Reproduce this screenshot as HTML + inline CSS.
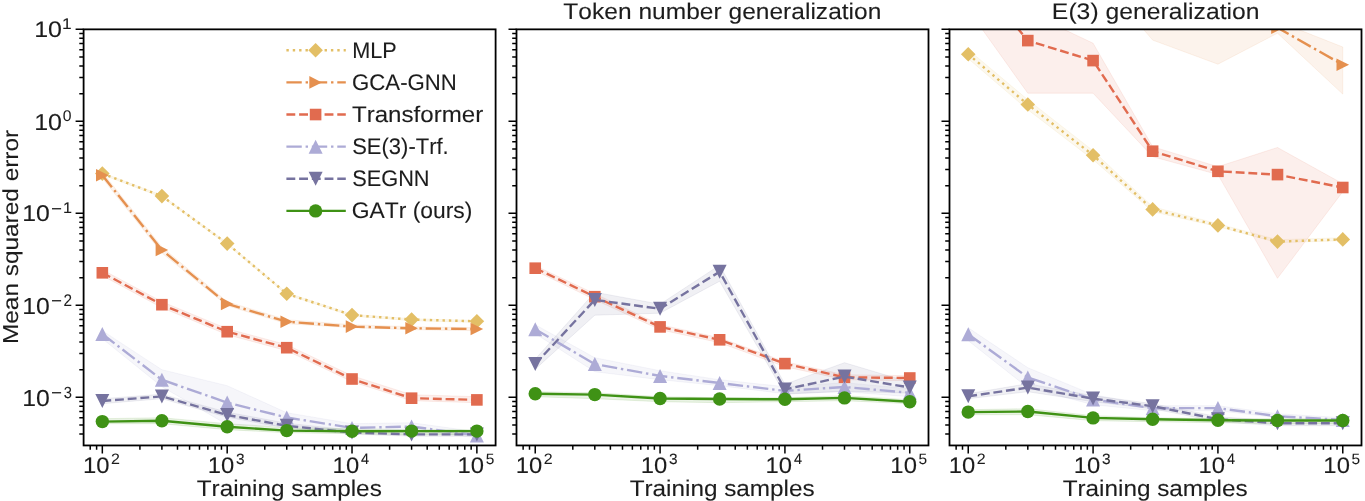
<!DOCTYPE html>
<html><head><meta charset="utf-8"><style>html,body{margin:0;padding:0;background:#fff;}svg{display:block;will-change:transform;}text{font-kerning:none;text-rendering:geometricPrecision;stroke:#1c1c1c;stroke-width:0.4px;vector-effect:non-scaling-stroke;}</style></head>
<body>
<svg width="1365" height="501" viewBox="0 0 1365 501" style="font-family:'Liberation Sans',sans-serif" fill="#1c1c1c">
<rect width="1365" height="501" fill="#fff"/>
<defs>
<clipPath id="c0"><rect x="83.60" y="29.35" width="412.00" height="416.10"/></clipPath>
<clipPath id="c1"><rect x="516.50" y="29.35" width="412.00" height="416.10"/></clipPath>
<clipPath id="c2"><rect x="949.50" y="29.35" width="412.00" height="416.10"/></clipPath>
</defs>
<g clip-path="url(#c0)">
<path d="M102.33,172.70L161.90,195.20L227.18,242.70L286.74,292.70L352.02,314.20L411.59,318.70L476.87,320.40L476.87,322.40L411.59,320.70L352.02,316.20L286.74,294.70L227.18,244.70L161.90,197.20L102.33,174.70Z" fill="#E3BF66" fill-opacity="0.11" stroke="#E3BF66" stroke-opacity="0.11" stroke-width="1"/>
<path d="M102.33,172.20L161.90,247.00L227.18,301.70L286.74,319.70L352.02,324.70L411.59,326.70L476.87,327.70L476.87,330.70L411.59,329.70L352.02,327.70L286.74,323.70L227.18,305.70L161.90,253.00L102.33,178.20Z" fill="#E5904F" fill-opacity="0.11" stroke="#E5904F" stroke-opacity="0.11" stroke-width="1"/>
<path d="M102.33,269.70L161.90,301.70L227.18,328.70L286.74,344.70L352.02,375.70L411.59,394.70L476.87,396.70L476.87,402.70L411.59,400.70L352.02,381.70L286.74,350.70L227.18,334.70L161.90,307.70L102.33,275.70Z" fill="#E16B4F" fill-opacity="0.11" stroke="#E16B4F" stroke-opacity="0.11" stroke-width="1"/>
<path d="M102.33,330.70L161.90,369.70L227.18,385.70L286.74,412.70L352.02,423.70L411.59,422.70L476.87,431.70L476.87,437.70L411.59,429.70L352.02,430.70L286.74,425.70L227.18,424.70L161.90,386.70L102.33,338.70Z" fill="#ADABD6" fill-opacity="0.11" stroke="#ADABD6" stroke-opacity="0.11" stroke-width="1"/>
<path d="M102.33,398.70L161.90,394.20L227.18,412.20L286.74,423.20L352.02,430.20L411.59,432.20L476.87,432.20L476.87,436.20L411.59,436.20L352.02,434.20L286.74,428.20L227.18,417.20L161.90,398.70L102.33,403.70Z" fill="#76739F" fill-opacity="0.11" stroke="#76739F" stroke-opacity="0.11" stroke-width="1"/>
<path d="M102.33,418.70L161.90,417.70L227.18,423.70L286.74,427.70L352.02,428.70L411.59,429.70L476.87,429.70L476.87,434.70L411.59,434.70L352.02,433.70L286.74,432.70L227.18,429.70L161.90,423.70L102.33,423.70Z" fill="#3F9215" fill-opacity="0.11" stroke="#3F9215" stroke-opacity="0.11" stroke-width="1"/>
<path d="M102.33,173.60L161.90,196.10L227.18,243.60L286.74,293.70L352.02,315.10L411.59,319.60L476.87,321.30" fill="none" stroke="#E3BF66" stroke-width="2.4" stroke-linejoin="round" stroke-dasharray="2.40,3.96"/>
<path d="M102.33,166.30L109.63,173.60L102.33,180.90L95.03,173.60Z" fill="#E3BF66"/>
<path d="M161.90,188.80L169.20,196.10L161.90,203.40L154.60,196.10Z" fill="#E3BF66"/>
<path d="M227.18,236.30L234.48,243.60L227.18,250.90L219.88,243.60Z" fill="#E3BF66"/>
<path d="M286.74,286.40L294.04,293.70L286.74,301.00L279.44,293.70Z" fill="#E3BF66"/>
<path d="M352.02,307.80L359.32,315.10L352.02,322.40L344.72,315.10Z" fill="#E3BF66"/>
<path d="M411.59,312.30L418.89,319.60L411.59,326.90L404.29,319.60Z" fill="#E3BF66"/>
<path d="M476.87,314.00L484.17,321.30L476.87,328.60L469.57,321.30Z" fill="#E3BF66"/>
<path d="M102.33,175.20L161.90,250.00L227.18,303.90L286.74,321.70L352.02,326.60L411.59,328.30L476.87,329.00" fill="none" stroke="#E5904F" stroke-width="2.4" stroke-linejoin="round" stroke-dasharray="15.36,3.84,2.40,3.84"/>
<path d="M108.63,175.20L96.03,168.90L96.03,181.50Z" fill="#E5904F"/>
<path d="M168.20,250.00L155.60,243.70L155.60,256.30Z" fill="#E5904F"/>
<path d="M233.48,303.90L220.88,297.60L220.88,310.20Z" fill="#E5904F"/>
<path d="M293.04,321.70L280.44,315.40L280.44,328.00Z" fill="#E5904F"/>
<path d="M358.32,326.60L345.72,320.30L345.72,332.90Z" fill="#E5904F"/>
<path d="M417.89,328.30L405.29,322.00L405.29,334.60Z" fill="#E5904F"/>
<path d="M483.17,329.00L470.57,322.70L470.57,335.30Z" fill="#E5904F"/>
<path d="M102.33,272.80L161.90,304.70L227.18,331.70L286.74,347.70L352.02,379.00L411.59,398.20L476.87,399.90" fill="none" stroke="#E16B4F" stroke-width="2.4" stroke-linejoin="round" stroke-dasharray="8.88,3.84"/>
<rect x="96.53" y="267.00" width="11.60" height="11.60" fill="#E16B4F"/>
<rect x="156.10" y="298.90" width="11.60" height="11.60" fill="#E16B4F"/>
<rect x="221.38" y="325.90" width="11.60" height="11.60" fill="#E16B4F"/>
<rect x="280.94" y="341.90" width="11.60" height="11.60" fill="#E16B4F"/>
<rect x="346.22" y="373.20" width="11.60" height="11.60" fill="#E16B4F"/>
<rect x="405.79" y="392.40" width="11.60" height="11.60" fill="#E16B4F"/>
<rect x="471.07" y="394.10" width="11.60" height="11.60" fill="#E16B4F"/>
<path d="M102.33,334.00L161.90,379.80L227.18,402.60L286.74,417.50L352.02,427.90L411.59,426.50L476.87,435.40" fill="none" stroke="#ADABD6" stroke-width="2.4" stroke-linejoin="round" stroke-dasharray="15.36,3.84,2.40,3.84"/>
<path d="M102.33,327.00L109.33,341.00L95.33,341.00Z" fill="#ADABD6"/>
<path d="M161.90,372.80L168.90,386.80L154.90,386.80Z" fill="#ADABD6"/>
<path d="M227.18,395.60L234.18,409.60L220.18,409.60Z" fill="#ADABD6"/>
<path d="M286.74,410.50L293.74,424.50L279.74,424.50Z" fill="#ADABD6"/>
<path d="M352.02,420.90L359.02,434.90L345.02,434.90Z" fill="#ADABD6"/>
<path d="M411.59,419.50L418.59,433.50L404.59,433.50Z" fill="#ADABD6"/>
<path d="M476.87,428.40L483.87,442.40L469.87,442.40Z" fill="#ADABD6"/>
<path d="M102.33,401.00L161.90,396.40L227.18,415.00L286.74,425.80L352.02,432.60L411.59,434.40L476.87,434.40" fill="none" stroke="#76739F" stroke-width="2.4" stroke-linejoin="round" stroke-dasharray="8.88,3.84"/>
<path d="M102.33,408.00L109.33,394.00L95.33,394.00Z" fill="#76739F"/>
<path d="M161.90,403.40L168.90,389.40L154.90,389.40Z" fill="#76739F"/>
<path d="M227.18,422.00L234.18,408.00L220.18,408.00Z" fill="#76739F"/>
<path d="M286.74,432.80L293.74,418.80L279.74,418.80Z" fill="#76739F"/>
<path d="M352.02,439.60L359.02,425.60L345.02,425.60Z" fill="#76739F"/>
<path d="M411.59,441.40L418.59,427.40L404.59,427.40Z" fill="#76739F"/>
<path d="M476.87,441.40L483.87,427.40L469.87,427.40Z" fill="#76739F"/>
<path d="M102.33,421.60L161.90,420.70L227.18,426.80L286.74,430.60L352.02,431.20L411.59,431.10L476.87,431.10" fill="none" stroke="#3F9215" stroke-width="2.4" stroke-linejoin="round"/>
<circle cx="102.33" cy="421.60" r="6.7" fill="#3F9215"/>
<circle cx="161.90" cy="420.70" r="6.7" fill="#3F9215"/>
<circle cx="227.18" cy="426.80" r="6.7" fill="#3F9215"/>
<circle cx="286.74" cy="430.60" r="6.7" fill="#3F9215"/>
<circle cx="352.02" cy="431.20" r="6.7" fill="#3F9215"/>
<circle cx="411.59" cy="431.10" r="6.7" fill="#3F9215"/>
<circle cx="476.87" cy="431.10" r="6.7" fill="#3F9215"/>
</g>
<rect x="83.60" y="29.35" width="412.00" height="416.10" fill="none" stroke="#000" stroke-width="1.8"/>
<path d="M90.23,445.45v4.3 M96.61,445.45v4.3 M102.33,445.45v8.0 M139.91,445.45v4.3 M161.90,445.45v4.3 M177.49,445.45v4.3 M189.59,445.45v4.3 M199.48,445.45v4.3 M207.84,445.45v4.3 M215.08,445.45v4.3 M221.46,445.45v4.3 M227.18,445.45v8.0 M264.76,445.45v4.3 M286.74,445.45v4.3 M302.34,445.45v4.3 M314.44,445.45v4.3 M324.33,445.45v4.3 M332.68,445.45v4.3 M339.93,445.45v4.3 M346.31,445.45v4.3 M352.02,445.45v8.0 M389.61,445.45v4.3 M411.59,445.45v4.3 M427.19,445.45v4.3 M439.29,445.45v4.3 M449.18,445.45v4.3 M457.53,445.45v4.3 M464.77,445.45v4.3 M471.16,445.45v4.3 M476.87,445.45v8.0 M83.60,433.96h-4.3 M83.60,425.04h-4.3 M83.60,417.76h-4.3 M83.60,411.60h-4.3 M83.60,406.27h-4.3 M83.60,401.56h-4.3 M83.60,397.35h-8.0 M83.60,369.66h-4.3 M83.60,353.45h-4.3 M83.60,341.96h-4.3 M83.60,333.04h-4.3 M83.60,325.76h-4.3 M83.60,319.60h-4.3 M83.60,314.27h-4.3 M83.60,309.56h-4.3 M83.60,305.35h-8.0 M83.60,277.66h-4.3 M83.60,261.45h-4.3 M83.60,249.96h-4.3 M83.60,241.04h-4.3 M83.60,233.76h-4.3 M83.60,227.60h-4.3 M83.60,222.27h-4.3 M83.60,217.56h-4.3 M83.60,213.35h-8.0 M83.60,185.66h-4.3 M83.60,169.45h-4.3 M83.60,157.96h-4.3 M83.60,149.04h-4.3 M83.60,141.76h-4.3 M83.60,135.60h-4.3 M83.60,130.27h-4.3 M83.60,125.56h-4.3 M83.60,121.35h-8.0 M83.60,93.66h-4.3 M83.60,77.45h-4.3 M83.60,65.96h-4.3 M83.60,57.04h-4.3 M83.60,49.76h-4.3 M83.60,43.60h-4.3 M83.60,38.27h-4.3 M83.60,33.56h-4.3 M83.60,29.35h-8.0" stroke="#000" stroke-width="1.5" fill="none"/>
<text transform="translate(82.909,472.682) scale(0.23870,0.22316)" font-size="100.0">10</text>
<text transform="translate(110.921,464.400) scale(0.16024,0.15038)" font-size="100.0">2</text>
<text transform="translate(207.758,472.682) scale(0.23870,0.22316)" font-size="100.0">10</text>
<text transform="translate(235.989,464.255) scale(0.15397,0.14830)" font-size="100.0">3</text>
<text transform="translate(332.606,472.682) scale(0.23870,0.22316)" font-size="100.0">10</text>
<text transform="translate(361.092,464.400) scale(0.14487,0.15262)" font-size="100.0">4</text>
<text transform="translate(457.455,472.682) scale(0.23870,0.22316)" font-size="100.0">10</text>
<text transform="translate(485.656,464.253) scale(0.15397,0.15048)" font-size="100.0">5</text>
<text transform="translate(196.754,495.800) scale(0.24300,0.22602)" font-size="100.0">Training samples</text>
<g clip-path="url(#c1)">
<path d="M535.23,265.70L594.80,293.70L660.08,324.70L719.64,337.70L784.92,361.70L844.49,374.70L909.77,375.70L909.77,380.70L844.49,379.70L784.92,366.70L719.64,342.70L660.08,329.70L594.80,299.70L535.23,270.70Z" fill="#E16B4F" fill-opacity="0.11" stroke="#E16B4F" stroke-opacity="0.11" stroke-width="1"/>
<path d="M535.23,324.70L594.80,357.70L660.08,370.70L719.64,379.70L784.92,386.70L844.49,382.70L909.77,388.70L909.77,396.70L844.49,391.70L784.92,393.70L719.64,385.70L660.08,379.70L594.80,371.70L535.23,333.70Z" fill="#ADABD6" fill-opacity="0.11" stroke="#ADABD6" stroke-opacity="0.11" stroke-width="1"/>
<path d="M535.23,359.20L594.80,292.20L660.08,304.20L719.64,265.20L784.92,384.20L844.49,362.70L909.77,382.20L909.77,393.20L844.49,391.20L784.92,394.20L719.64,281.20L660.08,313.20L594.80,315.20L535.23,369.20Z" fill="#76739F" fill-opacity="0.11" stroke="#76739F" stroke-opacity="0.11" stroke-width="1"/>
<path d="M535.23,391.70L594.80,392.70L660.08,396.70L719.64,397.70L784.92,397.70L844.49,395.70L909.77,399.70L909.77,403.70L844.49,400.70L784.92,401.70L719.64,402.70L660.08,401.70L594.80,398.70L535.23,396.70Z" fill="#3F9215" fill-opacity="0.11" stroke="#3F9215" stroke-opacity="0.11" stroke-width="1"/>
<path d="M535.23,268.20L594.80,296.70L660.08,326.90L719.64,339.80L784.92,363.60L844.49,377.30L909.77,378.00" fill="none" stroke="#E16B4F" stroke-width="2.4" stroke-linejoin="round" stroke-dasharray="8.88,3.84"/>
<rect x="529.43" y="262.40" width="11.60" height="11.60" fill="#E16B4F"/>
<rect x="589.00" y="290.90" width="11.60" height="11.60" fill="#E16B4F"/>
<rect x="654.28" y="321.10" width="11.60" height="11.60" fill="#E16B4F"/>
<rect x="713.84" y="334.00" width="11.60" height="11.60" fill="#E16B4F"/>
<rect x="779.12" y="357.80" width="11.60" height="11.60" fill="#E16B4F"/>
<rect x="838.69" y="371.50" width="11.60" height="11.60" fill="#E16B4F"/>
<rect x="903.97" y="372.20" width="11.60" height="11.60" fill="#E16B4F"/>
<path d="M535.23,329.30L594.80,364.10L660.08,375.90L719.64,383.00L784.92,390.90L844.49,387.00L909.77,392.80" fill="none" stroke="#ADABD6" stroke-width="2.4" stroke-linejoin="round" stroke-dasharray="15.36,3.84,2.40,3.84"/>
<path d="M535.23,322.30L542.23,336.30L528.23,336.30Z" fill="#ADABD6"/>
<path d="M594.80,357.10L601.80,371.10L587.80,371.10Z" fill="#ADABD6"/>
<path d="M660.08,368.90L667.08,382.90L653.08,382.90Z" fill="#ADABD6"/>
<path d="M719.64,376.00L726.64,390.00L712.64,390.00Z" fill="#ADABD6"/>
<path d="M784.92,383.90L791.92,397.90L777.92,397.90Z" fill="#ADABD6"/>
<path d="M844.49,380.00L851.49,394.00L837.49,394.00Z" fill="#ADABD6"/>
<path d="M909.77,385.80L916.77,399.80L902.77,399.80Z" fill="#ADABD6"/>
<path d="M535.23,364.10L594.80,299.90L660.08,308.80L719.64,271.70L784.92,389.40L844.49,376.60L909.77,387.50" fill="none" stroke="#76739F" stroke-width="2.4" stroke-linejoin="round" stroke-dasharray="8.88,3.84"/>
<path d="M535.23,371.10L542.23,357.10L528.23,357.10Z" fill="#76739F"/>
<path d="M594.80,306.90L601.80,292.90L587.80,292.90Z" fill="#76739F"/>
<path d="M660.08,315.80L667.08,301.80L653.08,301.80Z" fill="#76739F"/>
<path d="M719.64,278.70L726.64,264.70L712.64,264.70Z" fill="#76739F"/>
<path d="M784.92,396.40L791.92,382.40L777.92,382.40Z" fill="#76739F"/>
<path d="M844.49,383.60L851.49,369.60L837.49,369.60Z" fill="#76739F"/>
<path d="M909.77,394.50L916.77,380.50L902.77,380.50Z" fill="#76739F"/>
<path d="M535.23,393.70L594.80,394.60L660.08,398.50L719.64,399.00L784.92,399.30L844.49,397.90L909.77,401.80" fill="none" stroke="#3F9215" stroke-width="2.4" stroke-linejoin="round"/>
<circle cx="535.23" cy="393.70" r="6.7" fill="#3F9215"/>
<circle cx="594.80" cy="394.60" r="6.7" fill="#3F9215"/>
<circle cx="660.08" cy="398.50" r="6.7" fill="#3F9215"/>
<circle cx="719.64" cy="399.00" r="6.7" fill="#3F9215"/>
<circle cx="784.92" cy="399.30" r="6.7" fill="#3F9215"/>
<circle cx="844.49" cy="397.90" r="6.7" fill="#3F9215"/>
<circle cx="909.77" cy="401.80" r="6.7" fill="#3F9215"/>
</g>
<rect x="516.50" y="29.35" width="412.00" height="416.10" fill="none" stroke="#000" stroke-width="1.8"/>
<path d="M523.13,445.45v4.3 M529.51,445.45v4.3 M535.23,445.45v8.0 M572.81,445.45v4.3 M594.80,445.45v4.3 M610.39,445.45v4.3 M622.49,445.45v4.3 M632.38,445.45v4.3 M640.74,445.45v4.3 M647.98,445.45v4.3 M654.36,445.45v4.3 M660.08,445.45v8.0 M697.66,445.45v4.3 M719.64,445.45v4.3 M735.24,445.45v4.3 M747.34,445.45v4.3 M757.23,445.45v4.3 M765.58,445.45v4.3 M772.83,445.45v4.3 M779.21,445.45v4.3 M784.92,445.45v8.0 M822.51,445.45v4.3 M844.49,445.45v4.3 M860.09,445.45v4.3 M872.19,445.45v4.3 M882.08,445.45v4.3 M890.43,445.45v4.3 M897.67,445.45v4.3 M904.06,445.45v4.3 M909.77,445.45v8.0 M516.50,433.96h-4.3 M516.50,425.04h-4.3 M516.50,417.76h-4.3 M516.50,411.60h-4.3 M516.50,406.27h-4.3 M516.50,401.56h-4.3 M516.50,397.35h-8.0 M516.50,369.66h-4.3 M516.50,353.45h-4.3 M516.50,341.96h-4.3 M516.50,333.04h-4.3 M516.50,325.76h-4.3 M516.50,319.60h-4.3 M516.50,314.27h-4.3 M516.50,309.56h-4.3 M516.50,305.35h-8.0 M516.50,277.66h-4.3 M516.50,261.45h-4.3 M516.50,249.96h-4.3 M516.50,241.04h-4.3 M516.50,233.76h-4.3 M516.50,227.60h-4.3 M516.50,222.27h-4.3 M516.50,217.56h-4.3 M516.50,213.35h-8.0 M516.50,185.66h-4.3 M516.50,169.45h-4.3 M516.50,157.96h-4.3 M516.50,149.04h-4.3 M516.50,141.76h-4.3 M516.50,135.60h-4.3 M516.50,130.27h-4.3 M516.50,125.56h-4.3 M516.50,121.35h-8.0 M516.50,93.66h-4.3 M516.50,77.45h-4.3 M516.50,65.96h-4.3 M516.50,57.04h-4.3 M516.50,49.76h-4.3 M516.50,43.60h-4.3 M516.50,38.27h-4.3 M516.50,33.56h-4.3 M516.50,29.35h-8.0" stroke="#000" stroke-width="1.5" fill="none"/>
<text transform="translate(515.809,472.682) scale(0.23870,0.22316)" font-size="100.0">10</text>
<text transform="translate(543.821,464.400) scale(0.16024,0.15038)" font-size="100.0">2</text>
<text transform="translate(640.658,472.682) scale(0.23870,0.22316)" font-size="100.0">10</text>
<text transform="translate(668.889,464.255) scale(0.15397,0.14830)" font-size="100.0">3</text>
<text transform="translate(765.506,472.682) scale(0.23870,0.22316)" font-size="100.0">10</text>
<text transform="translate(793.992,464.400) scale(0.14487,0.15262)" font-size="100.0">4</text>
<text transform="translate(890.355,472.682) scale(0.23870,0.22316)" font-size="100.0">10</text>
<text transform="translate(918.556,464.253) scale(0.15397,0.15048)" font-size="100.0">5</text>
<text transform="translate(629.654,495.800) scale(0.24300,0.22602)" font-size="100.0">Training samples</text>
<g clip-path="url(#c2)">
<path d="M968.23,49.70L1027.80,99.70L1093.08,150.70L1152.64,206.70L1217.92,223.70L1277.49,239.70L1342.77,237.70L1342.77,240.70L1277.49,242.70L1217.92,226.70L1152.64,211.70L1093.08,159.70L1027.80,109.70L968.23,58.70Z" fill="#E3BF66" fill-opacity="0.11" stroke="#E3BF66" stroke-opacity="0.11" stroke-width="1"/>
<path d="M968.23,-299.30L1027.80,-249.30L1093.08,-199.30L1152.64,-149.30L1217.92,-79.30L1277.49,21.20L1342.77,47.00L1342.77,94.10L1277.49,33.20L1217.92,64.20L1152.64,40.10L1093.08,-29.30L1027.80,-49.30L968.23,-99.30Z" fill="#E5904F" fill-opacity="0.11" stroke="#E5904F" stroke-opacity="0.11" stroke-width="1"/>
<path d="M968.23,-44.30L1027.80,12.20L1093.08,43.20L1152.64,146.70L1217.92,166.70L1277.49,147.50L1342.77,183.70L1342.77,191.70L1277.49,278.30L1217.92,174.60L1152.64,156.70L1093.08,93.20L1027.80,93.20L968.23,9.70Z" fill="#E16B4F" fill-opacity="0.11" stroke="#E16B4F" stroke-opacity="0.11" stroke-width="1"/>
<path d="M968.23,327.70L1027.80,367.70L1093.08,394.70L1152.64,405.70L1217.92,405.70L1277.49,413.70L1342.77,417.70L1342.77,421.70L1277.49,417.70L1217.92,410.70L1152.64,410.70L1093.08,404.70L1027.80,387.70L968.23,340.70Z" fill="#ADABD6" fill-opacity="0.11" stroke="#ADABD6" stroke-opacity="0.11" stroke-width="1"/>
<path d="M968.23,393.70L1027.80,383.70L1093.08,395.70L1152.64,403.70L1217.92,416.70L1277.49,420.70L1342.77,420.70L1342.77,425.70L1277.49,425.70L1217.92,421.70L1152.64,408.70L1093.08,401.70L1027.80,391.70L968.23,398.70Z" fill="#76739F" fill-opacity="0.11" stroke="#76739F" stroke-opacity="0.11" stroke-width="1"/>
<path d="M968.23,409.70L1027.80,408.70L1093.08,415.70L1152.64,417.70L1217.92,418.70L1277.49,418.70L1342.77,418.70L1342.77,423.70L1277.49,423.70L1217.92,422.70L1152.64,421.70L1093.08,420.70L1027.80,414.70L968.23,414.70Z" fill="#3F9215" fill-opacity="0.11" stroke="#3F9215" stroke-opacity="0.11" stroke-width="1"/>
<path d="M968.23,54.20L1027.80,104.50L1093.08,155.20L1152.64,209.40L1217.92,225.40L1277.49,241.60L1342.77,239.40" fill="none" stroke="#E3BF66" stroke-width="2.4" stroke-linejoin="round" stroke-dasharray="2.40,3.96"/>
<path d="M968.23,46.90L975.53,54.20L968.23,61.50L960.93,54.20Z" fill="#E3BF66"/>
<path d="M1027.80,97.20L1035.10,104.50L1027.80,111.80L1020.50,104.50Z" fill="#E3BF66"/>
<path d="M1093.08,147.90L1100.38,155.20L1093.08,162.50L1085.78,155.20Z" fill="#E3BF66"/>
<path d="M1152.64,202.10L1159.94,209.40L1152.64,216.70L1145.34,209.40Z" fill="#E3BF66"/>
<path d="M1217.92,218.10L1225.22,225.40L1217.92,232.70L1210.62,225.40Z" fill="#E3BF66"/>
<path d="M1277.49,234.30L1284.79,241.60L1277.49,248.90L1270.19,241.60Z" fill="#E3BF66"/>
<path d="M1342.77,232.10L1350.07,239.40L1342.77,246.70L1335.47,239.40Z" fill="#E3BF66"/>
<path d="M968.23,-199.30L1027.80,-149.30L1093.08,-99.30L1152.64,-59.30L1217.92,-19.30L1277.49,27.70L1342.77,64.80" fill="none" stroke="#E5904F" stroke-width="2.4" stroke-linejoin="round" stroke-dasharray="15.36,3.84,2.40,3.84"/>
<path d="M974.53,-199.30L961.93,-205.60L961.93,-193.00Z" fill="#E5904F"/>
<path d="M1034.10,-149.30L1021.50,-155.60L1021.50,-143.00Z" fill="#E5904F"/>
<path d="M1099.38,-99.30L1086.78,-105.60L1086.78,-93.00Z" fill="#E5904F"/>
<path d="M1158.94,-59.30L1146.34,-65.60L1146.34,-53.00Z" fill="#E5904F"/>
<path d="M1224.22,-19.30L1211.62,-25.60L1211.62,-13.00Z" fill="#E5904F"/>
<path d="M1283.79,27.70L1271.19,21.40L1271.19,34.00Z" fill="#E5904F"/>
<path d="M1349.07,64.80L1336.47,58.50L1336.47,71.10Z" fill="#E5904F"/>
<path d="M968.23,-31.30L1027.80,40.60L1093.08,60.60L1152.64,151.20L1217.92,171.30L1277.49,174.60L1342.77,187.50" fill="none" stroke="#E16B4F" stroke-width="2.4" stroke-linejoin="round" stroke-dasharray="8.88,3.84"/>
<rect x="962.43" y="-37.10" width="11.60" height="11.60" fill="#E16B4F"/>
<rect x="1022.00" y="34.80" width="11.60" height="11.60" fill="#E16B4F"/>
<rect x="1087.28" y="54.80" width="11.60" height="11.60" fill="#E16B4F"/>
<rect x="1146.84" y="145.40" width="11.60" height="11.60" fill="#E16B4F"/>
<rect x="1212.12" y="165.50" width="11.60" height="11.60" fill="#E16B4F"/>
<rect x="1271.69" y="168.80" width="11.60" height="11.60" fill="#E16B4F"/>
<rect x="1336.97" y="181.70" width="11.60" height="11.60" fill="#E16B4F"/>
<path d="M968.23,334.30L1027.80,377.40L1093.08,399.50L1152.64,408.20L1217.92,408.10L1277.49,416.20L1342.77,419.90" fill="none" stroke="#ADABD6" stroke-width="2.4" stroke-linejoin="round" stroke-dasharray="15.36,3.84,2.40,3.84"/>
<path d="M968.23,327.30L975.23,341.30L961.23,341.30Z" fill="#ADABD6"/>
<path d="M1027.80,370.40L1034.80,384.40L1020.80,384.40Z" fill="#ADABD6"/>
<path d="M1093.08,392.50L1100.08,406.50L1086.08,406.50Z" fill="#ADABD6"/>
<path d="M1152.64,401.20L1159.64,415.20L1145.64,415.20Z" fill="#ADABD6"/>
<path d="M1217.92,401.10L1224.92,415.10L1210.92,415.10Z" fill="#ADABD6"/>
<path d="M1277.49,409.20L1284.49,423.20L1270.49,423.20Z" fill="#ADABD6"/>
<path d="M1342.77,412.90L1349.77,426.90L1335.77,426.90Z" fill="#ADABD6"/>
<path d="M968.23,396.30L1027.80,387.60L1093.08,398.60L1152.64,406.20L1217.92,419.20L1277.49,423.20L1342.77,423.20" fill="none" stroke="#76739F" stroke-width="2.4" stroke-linejoin="round" stroke-dasharray="8.88,3.84"/>
<path d="M968.23,403.30L975.23,389.30L961.23,389.30Z" fill="#76739F"/>
<path d="M1027.80,394.60L1034.80,380.60L1020.80,380.60Z" fill="#76739F"/>
<path d="M1093.08,405.60L1100.08,391.60L1086.08,391.60Z" fill="#76739F"/>
<path d="M1152.64,413.20L1159.64,399.20L1145.64,399.20Z" fill="#76739F"/>
<path d="M1217.92,426.20L1224.92,412.20L1210.92,412.20Z" fill="#76739F"/>
<path d="M1277.49,430.20L1284.49,416.20L1270.49,416.20Z" fill="#76739F"/>
<path d="M1342.77,430.20L1349.77,416.20L1335.77,416.20Z" fill="#76739F"/>
<path d="M968.23,412.10L1027.80,411.50L1093.08,417.90L1152.64,419.20L1217.92,420.30L1277.49,420.50L1342.77,420.50" fill="none" stroke="#3F9215" stroke-width="2.4" stroke-linejoin="round"/>
<circle cx="968.23" cy="412.10" r="6.7" fill="#3F9215"/>
<circle cx="1027.80" cy="411.50" r="6.7" fill="#3F9215"/>
<circle cx="1093.08" cy="417.90" r="6.7" fill="#3F9215"/>
<circle cx="1152.64" cy="419.20" r="6.7" fill="#3F9215"/>
<circle cx="1217.92" cy="420.30" r="6.7" fill="#3F9215"/>
<circle cx="1277.49" cy="420.50" r="6.7" fill="#3F9215"/>
<circle cx="1342.77" cy="420.50" r="6.7" fill="#3F9215"/>
</g>
<rect x="949.50" y="29.35" width="412.00" height="416.10" fill="none" stroke="#000" stroke-width="1.8"/>
<path d="M956.13,445.45v4.3 M962.51,445.45v4.3 M968.23,445.45v8.0 M1005.81,445.45v4.3 M1027.80,445.45v4.3 M1043.39,445.45v4.3 M1055.49,445.45v4.3 M1065.38,445.45v4.3 M1073.74,445.45v4.3 M1080.98,445.45v4.3 M1087.36,445.45v4.3 M1093.08,445.45v8.0 M1130.66,445.45v4.3 M1152.64,445.45v4.3 M1168.24,445.45v4.3 M1180.34,445.45v4.3 M1190.23,445.45v4.3 M1198.58,445.45v4.3 M1205.83,445.45v4.3 M1212.21,445.45v4.3 M1217.92,445.45v8.0 M1255.51,445.45v4.3 M1277.49,445.45v4.3 M1293.09,445.45v4.3 M1305.19,445.45v4.3 M1315.08,445.45v4.3 M1323.43,445.45v4.3 M1330.67,445.45v4.3 M1337.06,445.45v4.3 M1342.77,445.45v8.0 M949.50,433.96h-4.3 M949.50,425.04h-4.3 M949.50,417.76h-4.3 M949.50,411.60h-4.3 M949.50,406.27h-4.3 M949.50,401.56h-4.3 M949.50,397.35h-8.0 M949.50,369.66h-4.3 M949.50,353.45h-4.3 M949.50,341.96h-4.3 M949.50,333.04h-4.3 M949.50,325.76h-4.3 M949.50,319.60h-4.3 M949.50,314.27h-4.3 M949.50,309.56h-4.3 M949.50,305.35h-8.0 M949.50,277.66h-4.3 M949.50,261.45h-4.3 M949.50,249.96h-4.3 M949.50,241.04h-4.3 M949.50,233.76h-4.3 M949.50,227.60h-4.3 M949.50,222.27h-4.3 M949.50,217.56h-4.3 M949.50,213.35h-8.0 M949.50,185.66h-4.3 M949.50,169.45h-4.3 M949.50,157.96h-4.3 M949.50,149.04h-4.3 M949.50,141.76h-4.3 M949.50,135.60h-4.3 M949.50,130.27h-4.3 M949.50,125.56h-4.3 M949.50,121.35h-8.0 M949.50,93.66h-4.3 M949.50,77.45h-4.3 M949.50,65.96h-4.3 M949.50,57.04h-4.3 M949.50,49.76h-4.3 M949.50,43.60h-4.3 M949.50,38.27h-4.3 M949.50,33.56h-4.3 M949.50,29.35h-8.0" stroke="#000" stroke-width="1.5" fill="none"/>
<text transform="translate(948.809,472.682) scale(0.23870,0.22316)" font-size="100.0">10</text>
<text transform="translate(976.821,464.400) scale(0.16024,0.15038)" font-size="100.0">2</text>
<text transform="translate(1073.658,472.682) scale(0.23870,0.22316)" font-size="100.0">10</text>
<text transform="translate(1101.889,464.255) scale(0.15397,0.14830)" font-size="100.0">3</text>
<text transform="translate(1198.506,472.682) scale(0.23870,0.22316)" font-size="100.0">10</text>
<text transform="translate(1226.992,464.400) scale(0.14487,0.15262)" font-size="100.0">4</text>
<text transform="translate(1323.355,472.682) scale(0.23870,0.22316)" font-size="100.0">10</text>
<text transform="translate(1351.556,464.253) scale(0.15397,0.15048)" font-size="100.0">5</text>
<text transform="translate(1062.654,495.800) scale(0.24300,0.22602)" font-size="100.0">Training samples</text>
<text transform="translate(34.198,36.779) scale(0.24973,0.22599)" font-size="100.0">10</text>
<text transform="translate(61.975,28.900) scale(0.17395,0.15407)" font-size="100.0">1</text>
<text transform="translate(34.198,129.575) scale(0.24973,0.23022)" font-size="100.0">10</text>
<text transform="translate(62.687,120.950) scale(0.15689,0.15395)" font-size="100.0">0</text>
<text transform="translate(22.213,221.377) scale(0.24773,0.22881)" font-size="100.0">10</text>
<rect x="52.00" y="208.10" width="9.1" height="1.3" fill="#1c1c1c"/>
<text transform="translate(63.063,213.000) scale(0.16236,0.15407)" font-size="100.0">1</text>
<text transform="translate(22.213,313.922) scale(0.24773,0.23375)" font-size="100.0">10</text>
<rect x="52.00" y="300.10" width="9.1" height="1.3" fill="#1c1c1c"/>
<text transform="translate(63.527,305.800) scale(0.15365,0.16900)" font-size="100.0">2</text>
<text transform="translate(22.213,405.972) scale(0.24773,0.23305)" font-size="100.0">10</text>
<rect x="52.00" y="392.10" width="9.1" height="1.3" fill="#1c1c1c"/>
<text transform="translate(63.738,397.741) scale(0.14764,0.16243)" font-size="100.0">3</text>
<text transform="translate(17.5,342.000) rotate(-90) translate(-2.000,0) scale(0.24379,0.21657)" font-size="100.0">Mean squared error</text>
<text transform="translate(563.348,19.100) scale(0.24555,0.22602)" font-size="100.0">Token number generalization</text>
<text transform="translate(1051.870,19.100) scale(0.24750,0.22602)" font-size="100.0">E(3) generalization</text>
<path d="M286.4,50.30H345.8" stroke="#E3BF66" stroke-width="2.4" stroke-dasharray="2.40,3.96"/>
<path d="M315.60,43.00L322.90,50.30L315.60,57.60L308.30,50.30Z" fill="#E3BF66"/>
<text transform="translate(352.224,57.800) scale(0.21651,0.22602)" font-size="100.0">MLP</text>
<path d="M286.4,82.42H345.8" stroke="#E5904F" stroke-width="2.4" stroke-dasharray="15.36,3.84,2.40,3.84"/>
<path d="M321.90,82.42L309.30,76.12L309.30,88.72Z" fill="#E5904F"/>
<text transform="translate(352.085,89.920) scale(0.22177,0.22602)" font-size="100.0">GCA-GNN</text>
<path d="M286.4,114.54H345.8" stroke="#E16B4F" stroke-width="2.4" stroke-dasharray="8.88,3.84"/>
<rect x="309.80" y="108.74" width="11.60" height="11.60" fill="#E16B4F"/>
<text transform="translate(351.959,122.040) scale(0.24102,0.22602)" font-size="100.0">Transformer</text>
<path d="M286.4,146.66H345.8" stroke="#ADABD6" stroke-width="2.4" stroke-dasharray="15.36,3.84,2.40,3.84"/>
<path d="M315.60,139.66L322.60,153.66L308.60,153.66Z" fill="#ADABD6"/>
<text transform="translate(352.201,154.160) scale(0.21990,0.22602)" font-size="100.0">SE(3)-Trf.</text>
<path d="M286.4,178.78H345.8" stroke="#76739F" stroke-width="2.4" stroke-dasharray="8.88,3.84"/>
<path d="M315.60,185.78L322.60,171.78L308.60,171.78Z" fill="#76739F"/>
<text transform="translate(352.212,186.280) scale(0.21754,0.22602)" font-size="100.0">SEGNN</text>
<path d="M286.4,210.90H345.8" stroke="#3F9215" stroke-width="2.4"/>
<circle cx="315.60" cy="210.90" r="6.7" fill="#3F9215"/>
<text transform="translate(351.852,218.400) scale(0.22824,0.22602)" font-size="100.0">GATr (ours)</text>
</svg>
</body></html>
